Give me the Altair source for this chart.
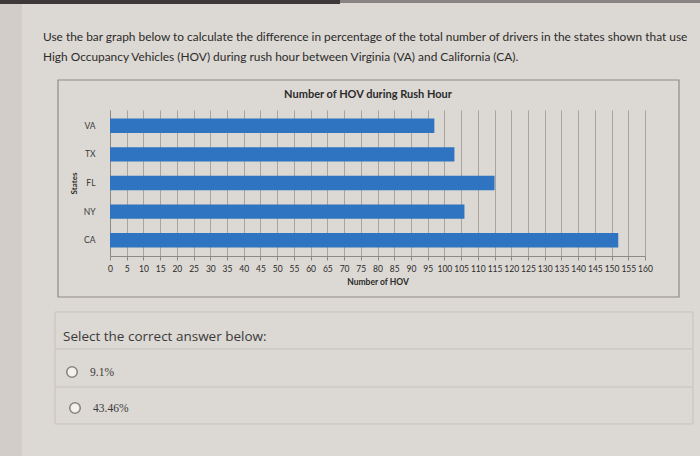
import altair as alt
import pandas as pd

# ---- data ----
states = ["VA", "TX", "FL", "NY", "CA"]
hov = [97, 103, 115, 106, 152]
x_ticks = list(range(0, 165, 5))

question_lines = [
    "Use the bar graph below to calculate the difference in percentage of the total number of drivers in the states shown that use",
    "High Occupancy Vehicles (HOV) during rush hour between Virginia (VA) and California (CA).",
]
chart_title = "Number of HOV during Rush Hour"
x_title = "Number of HOV"
y_title = "States"
prompt = "Select the correct answer below:"
answers = ["9.1%", "43.46%"]

# ---- layout ----
OX, OY = 110, 110          # plot-area origin on the 700x456 canvas
W, H = 535, 146
BG = "#dcd8d3"
FONT = "Lato"

one = alt.Data(values=[{}])


def text(t, x, y, **kw):
    opts = dict(align="left", baseline="middle", font=FONT, color="#2b2b2b")
    opts.update(kw)
    return alt.Chart(one).mark_text(text=t, **opts).encode(
        x=alt.value(x - OX), y=alt.value(y - OY)
    )


def rule(x1, y1, x2, y2, color="#c6c1bb", width=1):
    return alt.Chart(one).mark_rule(color=color, strokeWidth=width).encode(
        x=alt.value(x1 - OX), x2=alt.value(x2 - OX),
        y=alt.value(y1 - OY), y2=alt.value(y2 - OY),
    )


def box(x1, y1, x2, y2, **kw):
    return alt.Chart(one).mark_rect(**kw).encode(
        x=alt.value(x1 - OX), x2=alt.value(x2 - OX),
        y=alt.value(y1 - OY), y2=alt.value(y2 - OY),
    )


df = pd.DataFrame({"State": states, "HOV": hov})

bars = alt.Chart(df).mark_bar(color="#2f74c0").encode(
    x=alt.X(
        "HOV:Q",
        scale=alt.Scale(domain=[0, 160], nice=False, zero=True),
        axis=alt.Axis(
            values=x_ticks, grid=True, gridColor="#a8a49f", gridWidth=1,
            domainColor="#8d8985", tickColor="#8d8985", tickSize=4,
            labelFontSize=8.5, labelFont=FONT, labelColor="#2b2b2b",
            labelPadding=4, labelFlush=False, labelOverlap=False,
            title=x_title, titleFont=FONT, titleFontSize=8.5,
            titleFontWeight="bold", titleColor="#2b2b2b", titlePadding=5,
        ),
    ),
    y=alt.Y(
        "State:N", sort=states,
        scale=alt.Scale(paddingInner=0.5, paddingOuter=0.3),
        axis=alt.Axis(
            ticks=False, domainColor="#8d8985", labelFontSize=8.5,
            labelFont=FONT, labelColor="#3a3a3a", labelPadding=15,
            title=y_title, titleFont=FONT, titleFontSize=8,
            titleFontWeight="bold", titleColor="#2b2b2b", titlePadding=5,
        ),
    ),
)

layers = [
    box(0, 0, 22, 456, color="#d2cdc8"),
    box(0, 0, 340, 4, color="#3e3839"),
    box(340, 0, 700, 3, color="#8a8384"),
    box(58, 80, 679, 297, fill="transparent", fillOpacity=0,
        stroke="#8f8a86", strokeWidth=1.2),
    bars,
    text(question_lines[0], 43, 37, fontSize=11.9),
    text(question_lines[1], 43, 57, fontSize=11.9),
    text(chart_title, 368, 95, fontSize=11, fontWeight="bold", align="center"),
    rule(55, 312, 693, 312),
    rule(55, 349, 693, 349),
    rule(55, 387, 693, 387),
    rule(55, 424, 693, 424),
    rule(55, 312, 55, 424),
    rule(693, 312, 693, 424),
    text(prompt, 63, 337, fontSize=13.5, font="Open Sans", color="#3a3a3a"),
]

for i, (a, cy) in enumerate(zip(answers, [372, 408])):
    cx = 72 + 3 * i
    layers.append(
        alt.Chart(one).mark_point(
            shape="circle", size=110, filled=True, fill="#f3f1ee",
            stroke="#8a8580", strokeWidth=1.6, opacity=1,
        ).encode(x=alt.value(cx - OX), y=alt.value(cy - OY))
    )
    layers.append(text(a, cx + 18, cy + 1, fontSize=11.5,
                       font="Liberation Serif", color="#3a3a3a"))

chart = alt.layer(*layers).properties(
    width=W, height=H,
    padding={"left": OX, "top": OY, "right": 700 - OX - W, "bottom": 456 - OY - H},
    autosize=alt.AutoSizeParams(type="none"),
    background=BG,
).configure_view(stroke=None)

chart.save("out.html", embed_options={"renderer": "svg", "actions": False})
